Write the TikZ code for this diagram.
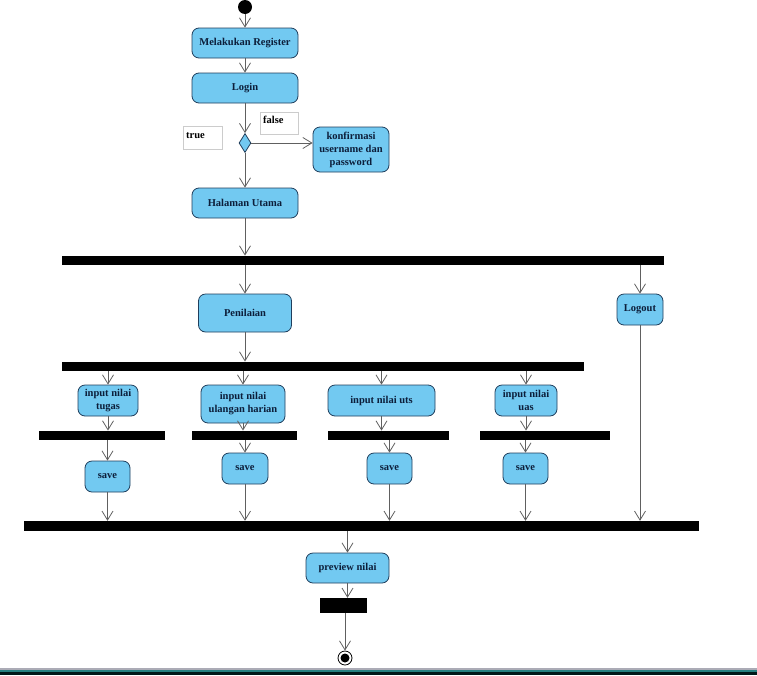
\documentclass[tikz,border=0pt]{standalone}
\usepackage{fontspec}
\setmainfont{Liberation Serif}
\usepackage{tikz}
\usetikzlibrary{positioning, arrows.meta, shapes.geometric}

\definecolor{actfill}{RGB}{114,201,241}
\definecolor{actline}{RGB}{32,62,92}
\definecolor{acttext}{RGB}{12,30,58}
\definecolor{flowline}{RGB}{96,96,96}

\begin{document}
\begin{tikzpicture}[
                x=1pt, y=-1pt, % satu satuan = satu piksel
                act/.style={
                    rectangle, % kotak aktivitas
                    rounded corners=7pt,
                    draw=actline, fill=actfill,
                    line width=0.8pt,
                    text=acttext, align=center,
                    inner sep=1pt,
                    font=\fontsize{10.5}{13}\selectfont\bfseries
                },
                bar/.style={
                    rectangle, fill=black, draw=none, % garis fork / join
                    inner sep=0, minimum height=9.5
                },
                guard/.style={
                    rectangle, draw=black!20, fill=white,
                    inner sep=0, anchor=north west,
                    font=\fontsize{10.5}{12}\selectfont\bfseries
                },
                flow/.style={
                    draw=flowline, line width=0.8pt,
                    -{Straight Barb[length=9pt, width=11pt, line width=0.8pt]}
                }
            ]
            \useasboundingbox (0,0) rectangle (757,675);

            % awal dan aktivitas login
            \node[circle, fill=black, minimum size=14, inner sep=0] (mulai) at (245,7) {};
            \node[act, minimum width=106, minimum height=30] (reg) at (245,43) {Melakukan Register};
            \node[act, minimum width=106, minimum height=30] (login) at (245,88) {Login};
            \node[diamond, draw=actline, fill=actfill, line width=0.8pt,
                  minimum width=12, minimum height=19, inner sep=0] (cek) at (245,143) {};
            \node[act, minimum width=76, minimum height=45] (konf) at (351,149.5)
                {konfirmasi\\username dan\\password};
            \node[act, minimum width=106, minimum height=30] (utama) at (245,203) {Halaman Utama};

            % label guard
            \node[guard, minimum width=39, minimum height=23] (benar) at (183,126) {};
            \node[anchor=west, inner sep=0, font=\fontsize{10.5}{12}\selectfont\bfseries]
                at (benar.west) [xshift=3, yshift=2] {true};
            \node[guard, minimum width=38, minimum height=22] (salah) at (260,112) {};
            \node[anchor=west, inner sep=0, font=\fontsize{10.5}{12}\selectfont\bfseries]
                at (salah.west) [xshift=3, yshift=3] {false};

            % fork pertama
            \node[bar, minimum width=602] (fork1) at (363,260.5) {};
            \node[act, minimum width=93, minimum height=38] (nilai) at (245,313) {Penilaian};
            \node[act, minimum width=46, minimum height=31] (logout) at (640,309.5) {Logout};

            % fork penilaian
            \node[bar, minimum width=522] (fork2) at (323,366.5) {};
            \node[act, minimum width=60, minimum height=31] (tugas) at (108,400.5) {input nilai\\tugas};
            \node[act, minimum width=84, minimum height=38] (harian) at (243,404) {input nilai\\ulangan harian};
            \node[act, minimum width=107, minimum height=31] (uts) at (381.5,400.5) {input nilai uts};
            \node[act, minimum width=62, minimum height=31] (uas) at (526,400.5) {input nilai\\uas};

            \node[bar, minimum width=126] (btugas) at (102,435.5) {};
            \node[bar, minimum width=105] (bharian) at (244.5,435.5) {};
            \node[bar, minimum width=121] (buts) at (388.5,435.5) {};
            \node[bar, minimum width=130] (buas) at (545,435.5) {};

            \node[act, minimum width=45, minimum height=31] (stugas) at (107.5,476.5) {save};
            \node[act, minimum width=46, minimum height=31] (sharian) at (245,468.5) {save};
            \node[act, minimum width=45, minimum height=31] (suts) at (389.5,468.5) {save};
            \node[act, minimum width=45, minimum height=31] (suas) at (525.5,468.5) {save};

            % join dan akhir
            \node[bar, minimum width=675, minimum height=10] (join) at (361.5,526) {};
            \node[act, minimum width=83, minimum height=30] (preview) at (347.5,568) {preview nilai};
            \node[bar, minimum width=47, minimum height=15] (join2) at (343.5,605.5) {};
            \node[circle, draw=black, fill=white, line width=0.8pt, minimum size=14, inner sep=0] (selesai) at (345,658) {};
            \node[circle, fill=black, minimum size=9, inner sep=0] at (selesai) {};

            % alur
            \draw[flow] (mulai) -- (reg);
            \draw[flow] (reg) -- (login);
            \draw[flow] (login) -- (cek);
            \draw[flow] (cek.east) -- (cek.east -| konf.west);
            \draw[flow] (cek) -- (utama);
            \draw[flow] (utama) -- (utama |- fork1.north);
            \draw[flow] (fork1.south -| nilai) -- (nilai);
            \draw[flow] (fork1.south -| logout) -- (logout);
            \draw[flow] (nilai) -- (nilai |- fork2.north);

            \foreach \a/\b/\s in {tugas/btugas/stugas, harian/bharian/sharian, uts/buts/suts, uas/buas/suas} {
                \draw[flow] (fork2.south -| \a) -- (\a);
                \draw[flow] (\a) -- (\a |- \b.north);
                \draw[flow] (\b.south -| \s) -- (\s);
                \draw[flow] (\s) -- (\s |- join.north);
            }
            \draw[flow] (logout) -- (logout |- join.north);

            \draw[flow] (join.south -| preview) -- (preview);
            \draw[flow] (preview) -- (preview |- join2.north);
            \draw[flow] (join2.south -| selesai) -- (selesai);

            % garis tepi bawah
            \fill[black!30!blue!10!gray!60] (0,667.5) rectangle (757,670);
            \fill[teal!70!gray] (0,670) rectangle (757,672);
            \fill[black!80!teal] (0,672) rectangle (757,674.5);
\end{tikzpicture}
\end{document}
